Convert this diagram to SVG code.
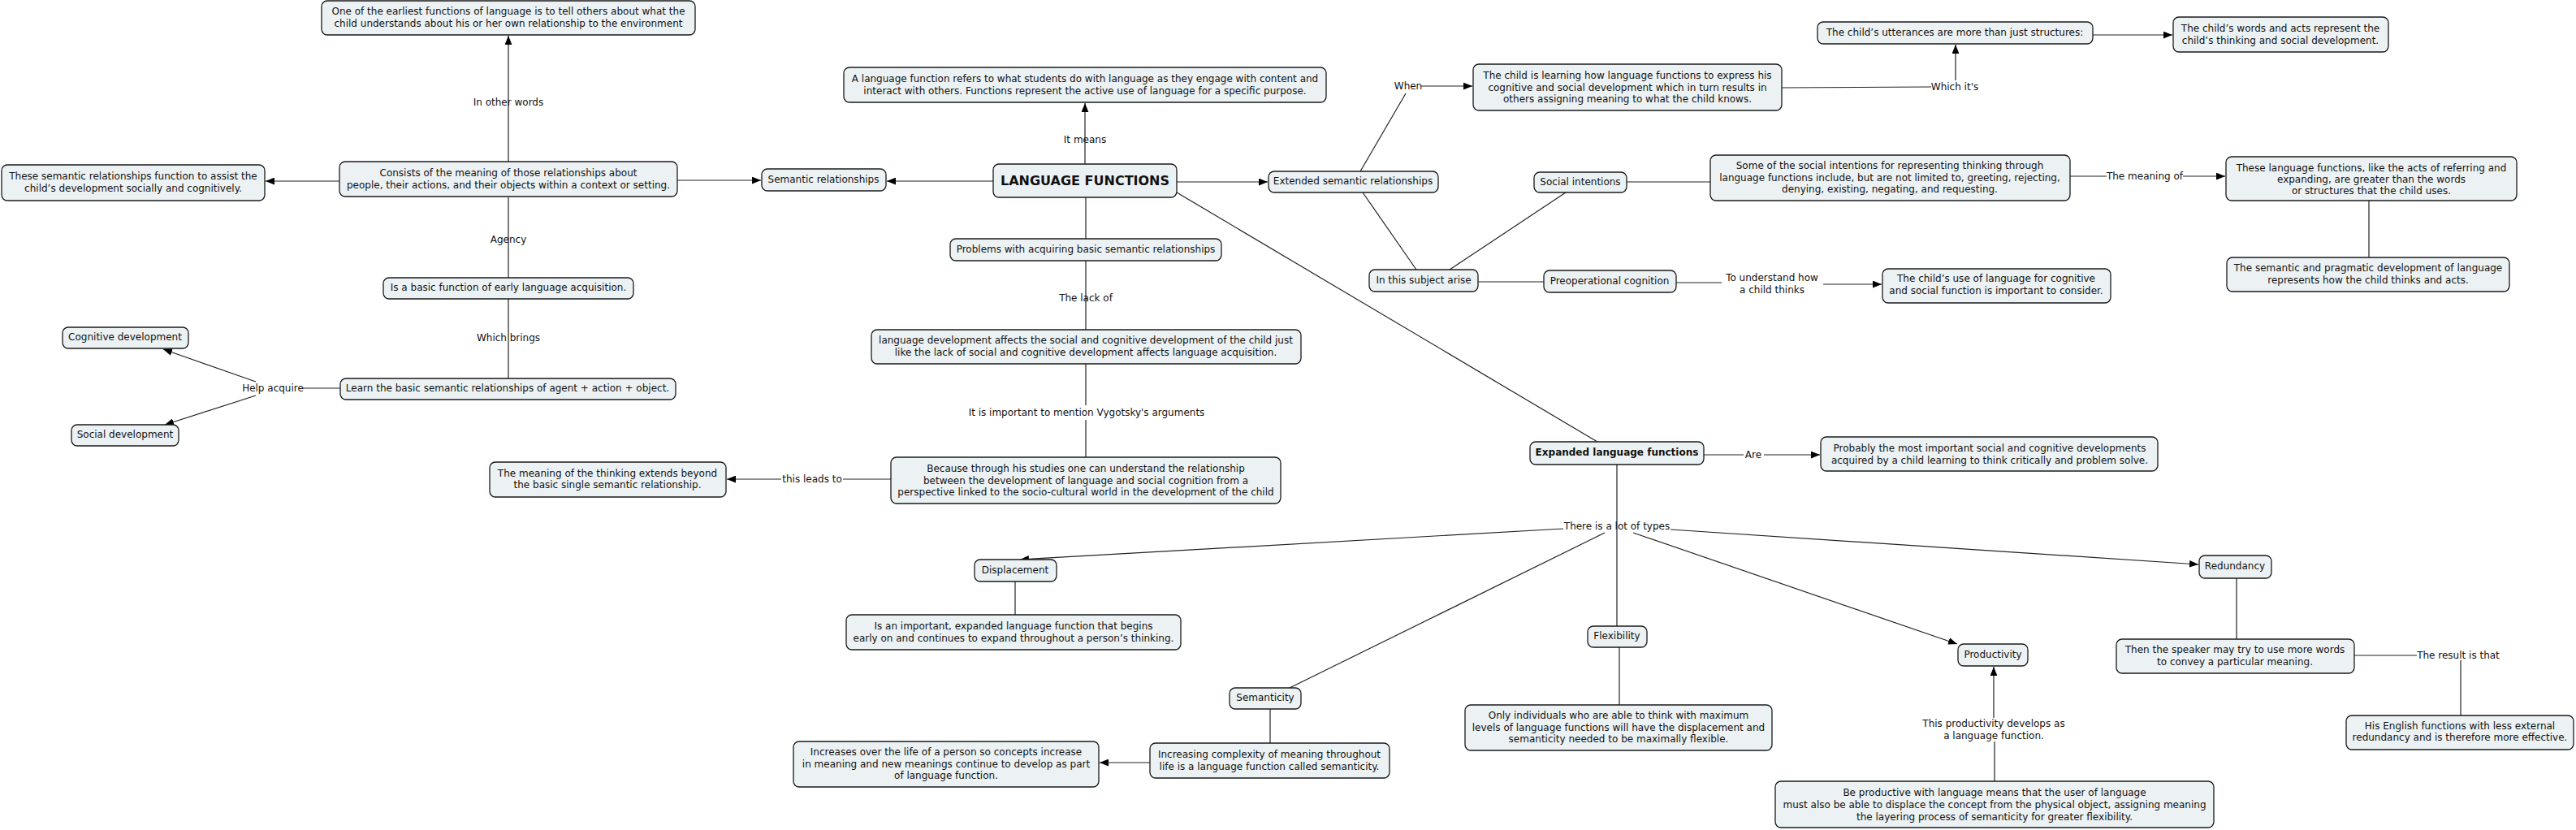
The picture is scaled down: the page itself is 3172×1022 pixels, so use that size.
<svg xmlns="http://www.w3.org/2000/svg" width="3172" height="1022" viewBox="0 0 3172 1022">
<defs>
<marker id="ah" viewBox="0 0 10 8" refX="10" refY="4" markerWidth="11" markerHeight="9" markerUnits="userSpaceOnUse" orient="auto"><path d="M0,0 L10,4 L0,8 z" fill="#000"/></marker>
<style>
.n rect{fill:#ecf2f4;stroke:#1a1a1a;stroke-width:1.3}
text{font-family:"DejaVu Sans",Verdana,"Liberation Sans",sans-serif;font-size:12px;fill:#111;text-anchor:middle}
.big{font-size:16px;font-weight:bold}
.b{font-weight:bold}
#connectors line,#connectors polyline{stroke:#222;stroke-width:1.2;fill:none}
.a{marker-end:url(#ah)}
</style>
</defs>
<rect width="3172" height="1022" fill="#fff"/>
<g id="connectors">
<line class="a" x1="626" y1="199" x2="626" y2="44"/>
<line x1="626" y1="243" x2="626" y2="342"/>
<line x1="626" y1="368" x2="626" y2="466"/>
<line x1="419" y1="478" x2="373" y2="478"/>
<line class="a" x1="315" y1="470" x2="201" y2="430"/>
<line class="a" x1="315" y1="487" x2="203" y2="523"/>
<line class="a" x1="418" y1="223" x2="327" y2="223"/>
<line class="a" x1="834" y1="222" x2="937" y2="222"/>
<line class="a" x1="1223" y1="223" x2="1092" y2="223"/>
<line class="a" x1="1336" y1="202" x2="1336" y2="127"/>
<line class="a" x1="1449" y1="224" x2="1561" y2="224"/>
<line x1="1337" y1="243" x2="1337" y2="294"/>
<line x1="1337" y1="321" x2="1337" y2="406"/>
<line x1="1337" y1="448" x2="1337" y2="499"/>
<line x1="1337" y1="517" x2="1337" y2="563"/>
<line x1="1097" y1="590" x2="1038" y2="590"/>
<line class="a" x1="962" y1="590" x2="895" y2="590"/>
<line x1="1449" y1="237" x2="1967" y2="544"/>
<line x1="1675" y1="211" x2="1731" y2="115"/>
<line class="a" x1="1750" y1="106" x2="1813" y2="106"/>
<line x1="2194" y1="108" x2="2378" y2="107"/>
<line class="a" x1="2408" y1="99" x2="2408" y2="55"/>
<line class="a" x1="2577" y1="43" x2="2675" y2="43"/>
<line x1="1678" y1="237" x2="1744" y2="332"/>
<line x1="1785" y1="332" x2="1928" y2="237"/>
<line x1="2003" y1="224" x2="2106" y2="224"/>
<line x1="2549" y1="217" x2="2594" y2="217"/>
<line class="a" x1="2688" y1="217" x2="2740" y2="217"/>
<line x1="2917" y1="247" x2="2917" y2="317"/>
<line x1="1820" y1="347" x2="1901" y2="347"/>
<line x1="2064" y1="348" x2="2120" y2="348"/>
<line class="a" x1="2245" y1="350" x2="2317" y2="350"/>
<line x1="2098" y1="560" x2="2147" y2="560"/>
<line class="a" x1="2172" y1="560" x2="2241" y2="560"/>
<line x1="1991" y1="572" x2="1991" y2="771"/>
<line class="a" x1="1925" y1="651" x2="1256" y2="689"/>
<line x1="1976" y1="656" x2="1588" y2="847"/>
<line class="a" x1="2011" y1="656" x2="2410" y2="793"/>
<line class="a" x1="2057" y1="652" x2="2707" y2="695"/>
<line x1="1250" y1="716" x2="1250" y2="757"/>
<line x1="1564" y1="873" x2="1564" y2="915"/>
<line class="a" x1="1416" y1="939" x2="1354" y2="939"/>
<line x1="1994" y1="797" x2="1994" y2="868"/>
<line x1="2456" y1="962" x2="2456" y2="913"/>
<line class="a" x1="2455" y1="884" x2="2455" y2="821"/>
<line x1="2754" y1="712" x2="2754" y2="787"/>
<line x1="2899" y1="807" x2="2976" y2="807"/>
<line x1="3030" y1="813" x2="3030" y2="881"/>
</g>
<g id="labels">
<text x="626" y="130">In other words</text>
<text x="626" y="299">Agency</text>
<text x="626" y="420">Which brings</text>
<text x="336" y="482">Help acquire</text>
<text x="1000" y="594">this leads to</text>
<text x="1336" y="176">It means</text>
<text x="1337" y="371">The lack of</text>
<text x="1338" y="512">It is important to mention Vygotsky's arguments</text>
<text x="1734" y="110">When</text>
<text x="2407" y="111">Which it's</text>
<text x="2641" y="221">The meaning of</text>
<text x="2182" y="346">To understand how</text>
<text x="2182" y="361">a child thinks</text>
<text x="2159" y="564">Are</text>
<text x="1991" y="652">There is a lot of types</text>
<text x="2455" y="895">This productivity develops as</text>
<text x="2455" y="910">a language function.</text>
<text x="3027" y="811">The result is that</text>
</g>
<g id="n-earliest" class="n"><rect x="396" y="1" width="460" height="42" rx="7"/><text x="626" y="18">One of the earliest functions of language is to tell others about what the</text><text x="626" y="33">child understands about his or her own relationship to the environment</text></g>
<g id="n-consists" class="n"><rect x="418" y="199" width="416" height="43" rx="7"/><text x="626" y="217">Consists of the meaning of those relationships about</text><text x="626" y="232">people, their actions, and their objects within a context or setting.</text></g>
<g id="n-assist" class="n"><rect x="2" y="203" width="324" height="44" rx="7"/><text x="164" y="221">These semantic relationships function to assist the</text><text x="164" y="236">child’s development socially and cognitively.</text></g>
<g id="n-basic" class="n"><rect x="472" y="342" width="308" height="26" rx="7"/><text x="626" y="358">Is a basic function of early language acquisition.</text></g>
<g id="n-learn" class="n"><rect x="419" y="466" width="413" height="26" rx="7"/><text x="625" y="482">Learn the basic semantic relationships of agent + action + object.</text></g>
<g id="n-cog" class="n"><rect x="77" y="403" width="155" height="26" rx="7"/><text x="154" y="419">Cognitive development</text></g>
<g id="n-social" class="n"><rect x="88" y="523" width="132" height="26" rx="7"/><text x="154" y="539">Social development</text></g>
<g id="n-meaning-think" class="n"><rect x="603" y="569" width="291" height="43" rx="7"/><text x="748" y="587">The meaning of the thinking extends beyond</text><text x="748" y="601">the basic single semantic relationship.</text></g>
<g id="n-means" class="n"><rect x="1039" y="83" width="594" height="43" rx="7"/><text x="1336" y="101">A language function refers to what students do with language as they engage with content and</text><text x="1336" y="116">interact with others. Functions represent the active use of language for a specific purpose.</text></g>
<g id="n-main" class="n"><rect x="1223" y="202" width="226" height="41" rx="7"/><text class="big" x="1336" y="228">LANGUAGE FUNCTIONS</text></g>
<g id="n-semrel" class="n"><rect x="938" y="208" width="153" height="27" rx="7"/><text x="1014" y="225">Semantic relationships</text></g>
<g id="n-ext" class="n"><rect x="1562" y="211" width="209" height="26" rx="7"/><text x="1666" y="227">Extended semantic relationships</text></g>
<g id="n-problems" class="n"><rect x="1170" y="294" width="334" height="27" rx="7"/><text x="1337" y="311">Problems with acquiring basic semantic relationships</text></g>
<g id="n-lack" class="n"><rect x="1073" y="406" width="529" height="42" rx="7"/><text x="1337" y="423">language development affects the social and cognitive development of the child just</text><text x="1337" y="438">like the lack of social and cognitive development affects language acquisition.</text></g>
<g id="n-because" class="n"><rect x="1097" y="563" width="480" height="57" rx="7"/><text x="1337" y="581">Because through his studies one can understand the relationship</text><text x="1337" y="596">between the development of language and social cognition from a</text><text x="1337" y="610">perspective linked to the socio-cultural world in the development of the child</text></g>
<g id="n-child-learning" class="n"><rect x="1814" y="79" width="380" height="57" rx="7"/><text x="2004" y="97">The child is learning how language functions to express his</text><text x="2004" y="112">cognitive and social development which in turn results in</text><text x="2004" y="126">others assigning meaning to what the child knows.</text></g>
<g id="n-utter" class="n"><rect x="2238" y="27" width="339" height="27" rx="7"/><text x="2407" y="44">The child’s utterances are more than just structures:</text></g>
<g id="n-words" class="n"><rect x="2676" y="21" width="265" height="43" rx="7"/><text x="2808" y="39">The child’s words and acts represent the</text><text x="2808" y="54">child’s thinking and social development.</text></g>
<g id="n-socint" class="n"><rect x="1889" y="212" width="114" height="25" rx="7"/><text x="1946" y="228">Social intentions</text></g>
<g id="n-some" class="n"><rect x="2106" y="191" width="443" height="56" rx="7"/><text x="2327" y="208">Some of the social intentions for representing thinking through</text><text x="2327" y="223">language functions include, but are not limited to, greeting, rejecting,</text><text x="2327" y="237">denying, existing, negating, and requesting.</text></g>
<g id="n-these" class="n"><rect x="2741" y="193" width="358" height="54" rx="7"/><text x="2920" y="211">These language functions, like the acts of referring and</text><text x="2920" y="225">expanding, are greater than the words</text><text x="2920" y="239">or structures that the child uses.</text></g>
<g id="n-semprag" class="n"><rect x="2742" y="317" width="348" height="42" rx="7"/><text x="2916" y="334">The semantic and pragmatic development of language</text><text x="2916" y="349">represents how the child thinks and acts.</text></g>
<g id="n-subject" class="n"><rect x="1686" y="332" width="134" height="27" rx="7"/><text x="1753" y="349">In this subject arise</text></g>
<g id="n-preop" class="n"><rect x="1901" y="333" width="163" height="27" rx="7"/><text x="1982" y="350">Preoperational cognition</text></g>
<g id="n-use" class="n"><rect x="2318" y="331" width="281" height="42" rx="7"/><text x="2458" y="347">The child’s use of language for cognitive</text><text x="2458" y="362">and social function is important to consider.</text></g>
<g id="n-expanded" class="n"><rect x="1884" y="544" width="214" height="28" rx="7"/><text class="b" x="1991" y="561">Expanded language functions</text></g>
<g id="n-probably" class="n"><rect x="2242" y="538" width="415" height="42" rx="7"/><text x="2450" y="556">Probably the most important social and cognitive developments</text><text x="2450" y="571">acquired by a child learning to think critically and problem solve.</text></g>
<g id="n-displacement" class="n"><rect x="1200" y="689" width="101" height="27" rx="7"/><text x="1250" y="706">Displacement</text></g>
<g id="n-important" class="n"><rect x="1042" y="757" width="412" height="43" rx="7"/><text x="1248" y="775">Is an important, expanded language function that begins</text><text x="1248" y="790">early on and continues to expand throughout a person’s thinking.</text></g>
<g id="n-semanticity" class="n"><rect x="1514" y="847" width="88" height="26" rx="7"/><text x="1558" y="863">Semanticity</text></g>
<g id="n-increasing" class="n"><rect x="1416" y="915" width="295" height="43" rx="7"/><text x="1563" y="933">Increasing complexity of meaning throughout</text><text x="1563" y="948">life is a language function called semanticity.</text></g>
<g id="n-increases" class="n"><rect x="977" y="913" width="376" height="56" rx="7"/><text x="1165" y="930">Increases over the life of a person so concepts increase</text><text x="1165" y="945">in meaning and new meanings continue to develop as part</text><text x="1165" y="959">of language function.</text></g>
<g id="n-flex" class="n"><rect x="1955" y="771" width="73" height="26" rx="7"/><text x="1991" y="787">Flexibility</text></g>
<g id="n-only" class="n"><rect x="1804" y="868" width="378" height="56" rx="7"/><text x="1993" y="885">Only individuals who are able to think with maximum</text><text x="1993" y="900">levels of language functions will have the displacement and</text><text x="1993" y="914">semanticity needed to be maximally flexible.</text></g>
<g id="n-prod" class="n"><rect x="2411" y="793" width="86" height="27" rx="7"/><text x="2454" y="810">Productivity</text></g>
<g id="n-be" class="n"><rect x="2186" y="962" width="540" height="57" rx="7"/><text x="2456" y="980">Be productive with language means that the user of language</text><text x="2456" y="995">must also be able to displace the concept from the physical object, assigning meaning</text><text x="2456" y="1010">the layering process of semanticity for greater flexibility.</text></g>
<g id="n-red" class="n"><rect x="2708" y="684" width="89" height="28" rx="7"/><text x="2752" y="701">Redundancy</text></g>
<g id="n-then" class="n"><rect x="2606" y="787" width="293" height="42" rx="7"/><text x="2752" y="804">Then the speaker may try to use more words</text><text x="2752" y="819">to convey a particular meaning.</text></g>
<g id="n-his" class="n"><rect x="2889" y="881" width="280" height="42" rx="7"/><text x="3029" y="898">His English functions with less external</text><text x="3029" y="912">redundancy and is therefore more effective.</text></g>
</svg>
